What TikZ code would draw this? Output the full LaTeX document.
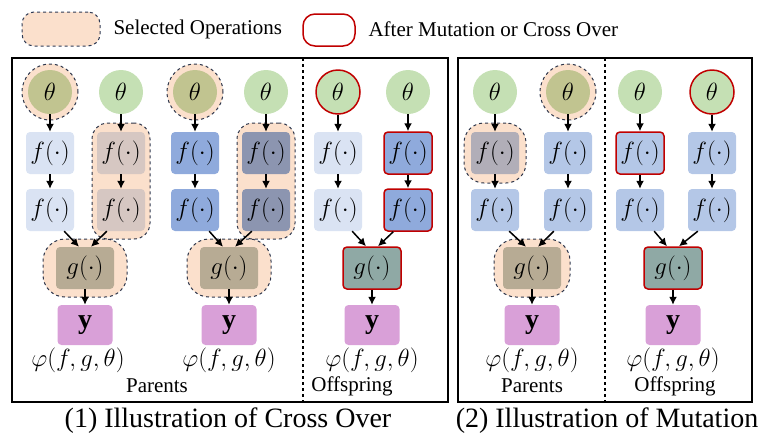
\documentclass[tikz,border=0pt]{standalone}
\usepackage{fontspec}
\setmainfont{Liberation Serif}
\usetikzlibrary{arrows.meta}
\definecolor{thg}{HTML}{C5E0B4}
\definecolor{fl}{HTML}{DAE3F3}
\definecolor{fd}{HTML}{8FAADC}
\definecolor{fm}{HTML}{B4C7E7}
\definecolor{gp}{HTML}{BAC3B9}
\definecolor{go}{HTML}{8FA9A5}
\definecolor{yc}{HTML}{D9A0D8}
\definecolor{mred}{HTML}{C00000}
\definecolor{peach}{HTML}{FBE0CC}
\definecolor{halod}{HTML}{2F3B55}
\tikzset{
  th/.style={circle, fill=thg, minimum size=44pt, inner sep=0, font=\fontsize{26}{28}\selectfont},
  fb/.style={rounded corners=4pt, minimum width=48pt, minimum height=42pt, inner sep=0, font=\fontsize{26}{28}\selectfont},
  gb/.style={fb, minimum width=58pt},
  yb/.style={rounded corners=4pt, fill=yc, minimum width=55pt, minimum height=40pt, inner sep=0, font=\fontsize{28}{30}\selectfont\bfseries},
  mut/.style={draw=mred, line width=1.5pt},
  arr/.style={-{Latex[length=8pt,width=8pt]}, line width=1.5pt},
  halo/.style={fill=peach, draw=halod, dashed, line width=1pt},
  phitxt/.style={font=\fontsize{25}{27}\selectfont},
  lab/.style={font=\fontsize{21}{23}\selectfont},
  captxt/.style={font=\fontsize{28}{30}\selectfont},
  panel/.style={draw=black, line width=1.6pt},
}
\begin{document}
\begin{tikzpicture}[x=1pt,y=-1pt]
\useasboundingbox (0,0) rectangle (765,440);
% legend
\node[halo, rounded corners=12pt, minimum width=78pt, minimum height=34pt] (legsel) at (61,29) {};
\node[lab, anchor=west] (legselt) at (110,29) {Selected Operations};
\node[draw=mred, line width=1.5pt, rounded corners=12pt, minimum width=52pt, minimum height=32pt] (legmut) at (329,30) {};
\node[lab, anchor=west] (legmutt) at (365,29) {After Mutation or Cross Over};
% panels
\draw[panel] (12,58) rectangle (448,402);
\draw[panel] (458,58) rectangle (752,402);
\draw[dashed, line width=1.2pt] (303,58) -- (303,402);
\draw[dashed, line width=1.2pt] (605,58) -- (605,402);
\node[lab] (parL) at (157,386) {Parents};
\node[lab] (offL) at (352,386) {Offspring};
\node[lab] (parR) at (532,386) {Parents};
\node[lab] (offR) at (675,386) {Offspring};
\node[captxt] (capL) at (228,421) {(1) Illustration of Cross Over};
\node[captxt] (capR) at (607,421) {(2) Illustration of Mutation};

% Left panel, parent 1
\node[th] (a1t) at (50,92) {$\theta$};
\node[th] (a2t) at (121,92) {$\theta$};
\node[fb, fill=fl] (a1f) at (50,153) {$f(\cdot)$};
\node[fb, fill=fl] (a1h) at (50,210) {$f(\cdot)$};
\node[fb, fill=fl] (a2f) at (121,153) {$f(\cdot)$};
\node[fb, fill=fl] (a2h) at (121,210) {$f(\cdot)$};
\node[gb, fill=gp] (ag) at (85,268) {$g(\cdot)$};
\node[yb] (ay) at (85,325) {y};
\node[phitxt] (aphi) at (78,360) {$\varphi(f,g,\theta)$};
% parent 2
\node[th] (b1t) at (195,92) {$\theta$};
\node[th] (b2t) at (266,92) {$\theta$};
\node[fb, fill=fd] (b1f) at (195,153) {$f(\cdot)$};
\node[fb, fill=fd] (b1h) at (195,210) {$f(\cdot)$};
\node[fb, fill=fd] (b2f) at (266,153) {$f(\cdot)$};
\node[fb, fill=fd] (b2h) at (266,210) {$f(\cdot)$};
\node[gb, fill=gp] (bg) at (229,268) {$g(\cdot)$};
\node[yb] (by) at (229,325) {y};
\node[phitxt] (bphi) at (229,360) {$\varphi(f,g,\theta)$};
% offspring
\node[th, mut] (c1t) at (338,92) {$\theta$};
\node[th] (c2t) at (408,92) {$\theta$};
\node[fb, fill=fl] (c1f) at (338,153) {$f(\cdot)$};
\node[fb, fill=fl] (c1h) at (338,210) {$f(\cdot)$};
\node[fb, fill=fd, mut] (c2f) at (408,153) {$f(\cdot)$};
\node[fb, fill=fd, mut] (c2h) at (408,210) {$f(\cdot)$};
\node[gb, fill=go, mut] (cg) at (372,268) {$g(\cdot)$};
\node[yb] (cy) at (372,325) {y};
\node[phitxt] (cphi) at (372,360) {$\varphi(f,g,\theta)$};
% right panel parents
\node[th] (d1t) at (495,92) {$\theta$};
\node[th] (d2t) at (568,92) {$\theta$};
\node[fb, fill=fm] (d1f) at (495,153) {$f(\cdot)$};
\node[fb, fill=fm] (d1h) at (495,210) {$f(\cdot)$};
\node[fb, fill=fm] (d2f) at (568,153) {$f(\cdot)$};
\node[fb, fill=fm] (d2h) at (568,210) {$f(\cdot)$};
\node[gb, fill=gp] (dg) at (532,268) {$g(\cdot)$};
\node[yb] (dy) at (532,325) {y};
\node[phitxt] (dphi) at (532,360) {$\varphi(f,g,\theta)$};
% right panel offspring
\node[th] (e1t) at (640,92) {$\theta$};
\node[th, mut] (e2t) at (712,92) {$\theta$};
\node[fb, fill=fm, mut] (e1f) at (640,153) {$f(\cdot)$};
\node[fb, fill=fm] (e1h) at (640,210) {$f(\cdot)$};
\node[fb, fill=fm] (e2f) at (712,153) {$f(\cdot)$};
\node[fb, fill=fm] (e2h) at (712,210) {$f(\cdot)$};
\node[gb, fill=go, mut] (eg) at (673,268) {$g(\cdot)$};
\node[yb] (ey) at (673,325) {y};
\node[phitxt] (ephi) at (673,360) {$\varphi(f,g,\theta)$};

% arrows
\foreach \p in {a,b,c,d,e}{
  \draw[arr] (\p1t) -- (\p1f);
  \draw[arr] (\p2t) -- (\p2f);
  \draw[arr] (\p1f) -- (\p1h);
  \draw[arr] (\p2f) -- (\p2h);
  \draw[arr] ([xshift=-10pt]\p1h.south east) -- ([xshift=-6pt]\p g.north);
  \draw[arr] ([xshift=10pt]\p2h.south west) -- ([xshift=6pt]\p g.north);
  \draw[arr] (\p g) -- (\p y);
}

% halos (multiply)
\begin{scope}[blend mode=multiply]
\node[halo, circle, minimum size=56pt] (ha1) at (a1t) {};
\node[halo, rounded corners=16pt, minimum width=58pt, minimum height=116pt] (ha2) at (121,181) {};
\node[halo, rounded corners=22pt, minimum width=84pt, minimum height=58pt] (hag) at (ag) {};
\node[halo, circle, minimum size=56pt] (hb1) at (b1t) {};
\node[halo, rounded corners=16pt, minimum width=58pt, minimum height=116pt] (hb2) at (266,181) {};
\node[halo, rounded corners=22pt, minimum width=84pt, minimum height=58pt] (hbg) at (bg) {};
\node[halo, rounded corners=20pt, minimum width=62pt, minimum height=60pt] (hd1) at (d1f) {};
\node[halo, circle, minimum size=56pt] (hd2) at (d2t) {};
\node[halo, rounded corners=22pt, minimum width=76pt, minimum height=58pt] (hdg) at (dg) {};
\end{scope}
\end{tikzpicture}
\end{document}
